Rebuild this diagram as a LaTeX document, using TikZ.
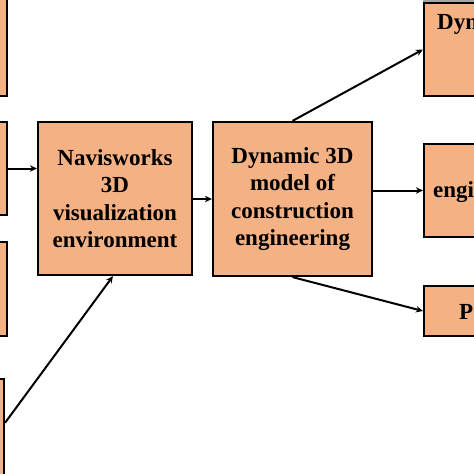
\documentclass[tikz,border=0pt]{standalone}
\usepackage{fontspec}
\setmainfont{Liberation Serif}
\usetikzlibrary{arrows.meta,calc}
\definecolor{peach}{RGB}{244,177,131}
\begin{document}
\begin{tikzpicture}[x=1pt,y=-1pt,
  box/.style={draw=black,line width=2.2pt,fill=peach,inner sep=0pt,
    font=\fontsize{23}{27.5}\selectfont\bfseries,align=center},
  arr/.style={line width=2pt,-{Stealth[length=7pt,width=6.5pt]}},
  lbl/.style={inner sep=0pt,font=\fontsize{23}{27.5}\selectfont\bfseries,anchor=base west}]
\useasboundingbox (0,0) rectangle (474,474);
\clip (0,0) rectangle (474,474);
\fill[white] (0,0) rectangle (474,474);
% left column (cut off)
\node[box,minimum width=27pt,minimum height=116pt] (L1) at (-6.5,38) {};
\node[box,minimum width=27pt,minimum height=93pt] (L2) at (-6.5,168.5) {};
\node[box,minimum width=27pt,minimum height=94pt] (L3) at (-6.5,289) {};
\node[box,minimum width=24pt,minimum height=121pt] (L4) at (-8,439.5) {};
% centre boxes
\node[box,minimum width=154pt,minimum height=153pt] (N) at (115,198.5)
  {Navisworks\\3D\\visualization\\environment};
\node[box,minimum width=159pt,minimum height=154pt] (D) at (292.5,199)
  {Dynamic 3D\\model of\\construction\\engineering};
% right column (cut off)
\fill[gray!70] (423,0) rectangle (474,2);
\node[box,minimum width=76pt,minimum height=93pt] (R1) at (462,49.5) {};
\node[box,minimum width=76pt,minimum height=93pt] (R2) at (462,190.5) {};
\node[box,minimum width=76pt,minimum height=50pt] (R3) at (462,311) {};
\node[lbl] (t1) at (437,29.5) {Dyn};
\node[lbl] (t2) at (433,197) {engi};
\node[lbl] (t3) at (459,319) {P};
% connectors
\draw[arr] (L2.east) -- (L2.east -| N.west);
\draw[arr] (N.east |- D.west) -- (D.west);
\draw[arr] ($(L4.north east)!0.364!(L4.south east)$) -- ($(N.south west)!0.487!(N.south east)$);
\draw[arr] (D.north) -- (R1.west);
\draw[arr] (R2.west -| D.east) -- (R2.west);
\draw[arr] (D.south) -- (R3.west);
\end{tikzpicture}
\end{document}
